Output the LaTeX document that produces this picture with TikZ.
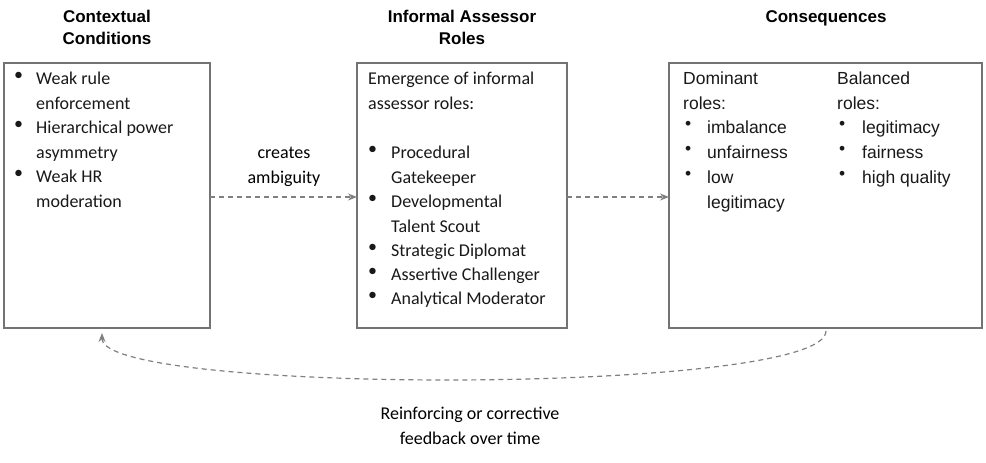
\documentclass[tikz,border=0pt]{standalone}
\usepackage{fontspec}
\setmainfont{Carlito}
\newfontfamily\hdr{Liberation Sans}
\usetikzlibrary{arrows.meta}
\begin{document}
\begin{tikzpicture}[x=1pt,y=-1pt,
 box/.style={draw=black!55,line width=1.6pt},
 hd/.style={font=\hdr\bfseries\fontsize{17}{22}\selectfont,align=center,anchor=north,inner sep=0},
 tx/.style={font=\fontsize{18}{24.5}\selectfont,align=left,anchor=north west,inner sep=0,text=black!90},
 tb/.style={font=\hdr\fontsize{17.5}{25}\selectfont,align=left,anchor=north west,inner sep=0,text=black!90},
 dsh/.style={draw=black!50,line width=1.2pt,dash pattern=on 5pt off 4pt,-{Stealth[length=9pt,width=7pt]}}]
\useasboundingbox (0,0) rectangle (986,463);
\fill[white] (0,0) rectangle (986,463);
\node[hd,name=h1] at (107,10) {Contextual\\Conditions};
\node[hd,name=h2] at (462,10) {Informal Assessor\\Roles};
\node[hd,name=h3] at (826,10) {Consequences};
\draw[box] (4,63) rectangle (210,328);
\draw[box] (357,63) rectangle (567,328);
\draw[box] (669,63) rectangle (982,328);
\coordinate (a1) at (210,197); \coordinate (b1) at (357,197);
\coordinate (a2) at (567,197); \coordinate (b2) at (669,197);
\draw[dsh] (a1) -- (b1);
\draw[dsh] (a2) -- (b2);
\node[font=\fontsize{18}{24.5}\selectfont,align=center,inner sep=0,name=ca] at (284,167) {creates\\ambiguity};
% left
\foreach \y/\t in {72/{Weak rule\\enforcement},121/{Hierarchical power\\asymmetry},170/{Weak HR\\moderation}}{
 \node[tx] at (14,\y) {•}; \node[tx] at (36,\y) {\t};}
% middle
\node[tx,name=em] at (368,72) {Emergence of informal\\assessor roles:};
\foreach \y/\t in {146/{Procedural\\Gatekeeper},195/{Developmental\\Talent Scout},244/{Strategic Diplomat},268/{Assertive Challenger},292/{Analytical Moderator}}{
 \node[tx] at (368,\y) {•}; \node[tx] at (391,\y) {\t};}
% right
\node[tb,name=dm] at (683,72) {Dominant\\roles:};
\foreach \y/\t in {121/{imbalance},146/{unfairness},171/{low\\legitimacy}}{
 \node[tb] at (685,\y) {•}; \node[tb] at (707,\y) {\t};}
\node[tb,name=bl] at (837,72) {Balanced\\roles:};
\foreach \y/\t in {121/{legitimacy},146/{fairness},171/{high quality}}{
 \node[tb] at (839,\y) {•}; \node[tb] at (862,\y) {\t};}
% feedback
\coordinate (f1) at (826,331); \coordinate (f2) at (102,333);
\draw[dsh] (f1) .. controls (826,395) and (102,395) .. (f2);
\node[font=\fontsize{18}{24.5}\selectfont,align=center,inner sep=0,name=fb] at (470,426) {Reinforcing or corrective\\feedback over time};
\end{tikzpicture}
\end{document}
